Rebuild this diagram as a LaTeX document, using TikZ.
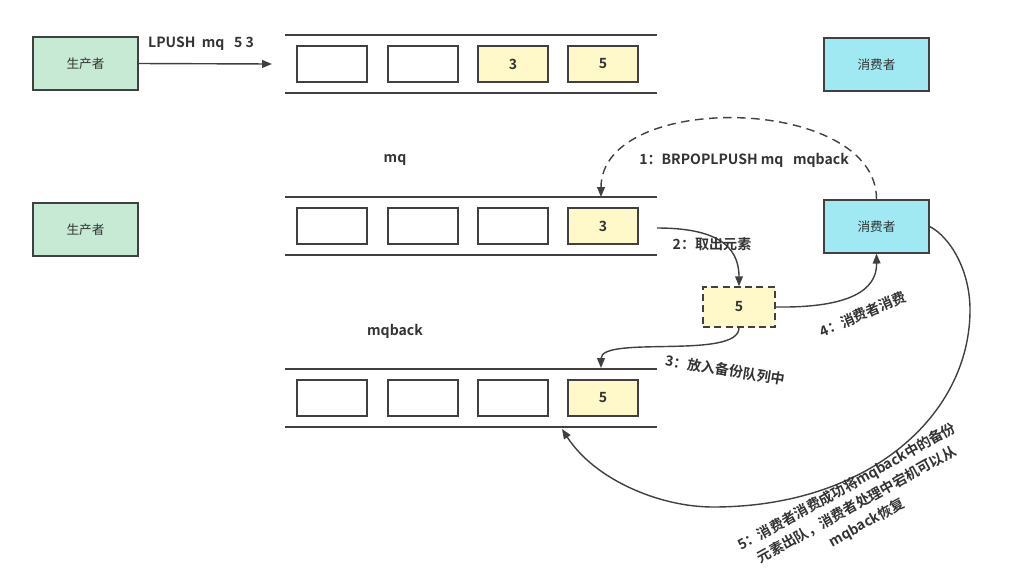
\documentclass[tikz,border=0pt]{standalone}
\usepackage{fontspec}
\setmainfont{Noto Sans CJK SC}[BoldFont={Noto Sans CJK SC Bold}]
\usetikzlibrary{arrows.meta, positioning}
\definecolor{prodfill}{RGB}{198,234,211}
\definecolor{consfill}{RGB}{161,233,242}
\definecolor{itemfill}{RGB}{255,249,201}
\definecolor{linegray}{RGB}{64,64,64}
\definecolor{textgray}{RGB}{51,51,51}

\begin{document}
\begin{tikzpicture}[x=0.025cm, y=-0.025cm,
    actor/.style={draw=linegray, line width=1.1pt, minimum width=2.62cm, minimum height=1.32cm,
        font=\fontsize{9}{11}\selectfont, text=textgray},
    cell/.style={draw=linegray, line width=1.1pt, minimum width=1.75cm, minimum height=0.9cm,
        inner sep=0pt, font=\bfseries\fontsize{10}{12}\selectfont, text=textgray},
    rail/.style={linegray, line width=1.1pt},
    flow/.style={linegray, line width=1pt, -{Triangle[length=7pt,width=5.5pt]}},
    lbl/.style={text=textgray, inner sep=1pt, font=\bfseries\fontsize{10}{12}\selectfont}]
\useasboundingbox (0,0) rectangle (1012,567);

% producers and consumers
\node[actor, fill=prodfill] (prodA) at (85.5,63.5) {生产者};
\node[actor, fill=prodfill] (prodB) at (85.5,229.5) {生产者};
\node[actor, fill=consfill] (consA) at (876.5,64.5) {消费者};
\node[actor, fill=consfill] (consB) at (876.5,226.5) {消费者};

% queues
\foreach \q/\y in {qa/64, qb/226, qc/398}{
    \draw[rail] (285,\y-29) -- (657,\y-29);
    \draw[rail] (285,\y+29) -- (657,\y+29);
    \foreach \i/\x in {1/332, 2/423}
        \node[cell] (\q\i) at (\x,\y) {};
}
\foreach \q/\y in {qb/226, qc/398}
    \node[cell] (\q3) at (513,\y) {};
\node[cell, fill=itemfill] (qa3) at (513,64) {3};
\node[cell, fill=itemfill] (qa4) at (603,64) {5};
\node[cell, fill=itemfill] (qb4) at (603,226) {3};
\node[cell, fill=itemfill] (qc4) at (603,398) {5};

% element taken out of mq
\node[cell, fill=itemfill, dash pattern=on 5pt off 3pt, minimum width=1.8cm, minimum height=1cm]
    (taken) at (739,307) {5};

\coordinate (qaIn) at (272,64);
\coordinate (qbTop) at (601,197);
\coordinate (qbOut) at (657,228);
\coordinate (qcTop) at (601,368);
\coordinate (qcBot) at (562,429);

% connectors
\draw[flow] (prodA.east) -- (qaIn);
\draw[flow, dash pattern=on 6pt off 4pt] (consB.north) .. controls (877,95) and (601,90) .. (qbTop);
\draw[flow] (qbOut) .. controls (715,228) and (739,245) .. (taken.north);
\draw[flow] (taken.south) .. controls (739,360) and (601,335) .. (qcTop);
\draw[flow] (taken.east) .. controls (850,308) and (877,290) .. (consB.south);
\draw[flow] (consB.east) .. controls (950,237) and (970,270) .. (970,310)
    .. controls (970,415) and (869,507) .. (713,507)
    .. controls (660,507) and (595,480) .. (qcBot);

% labels
\node[lbl] (cmdA) at (201,44) {LPUSH\ \ mq\ \ \ 5 3};
\node[lbl] (nameA) at (395,160) {mq};
\node[lbl] (nameB) at (395,331) {mqback};
\node[lbl] (stepA) at (744,160) {1：BRPOPLPUSH mq\ \ \ mqback};
\node[lbl] (stepB) at (712,244) {2：取出元素};
\node[lbl, rotate=-9] (stepC) at (725,370) {3：放入备份队列中};
\node[lbl, rotate=23] (stepD) at (863,314) {4：消费者消费};
\node[lbl, rotate=29, align=center, font=\bfseries\fontsize{10}{14.5}\selectfont] (stepE) at (857,505)
    {5：消费者消费成功将mqback中的备份\\元素出队，消费者处理中宕机可以从\\mqback恢复};
\end{tikzpicture}
\end{document}
